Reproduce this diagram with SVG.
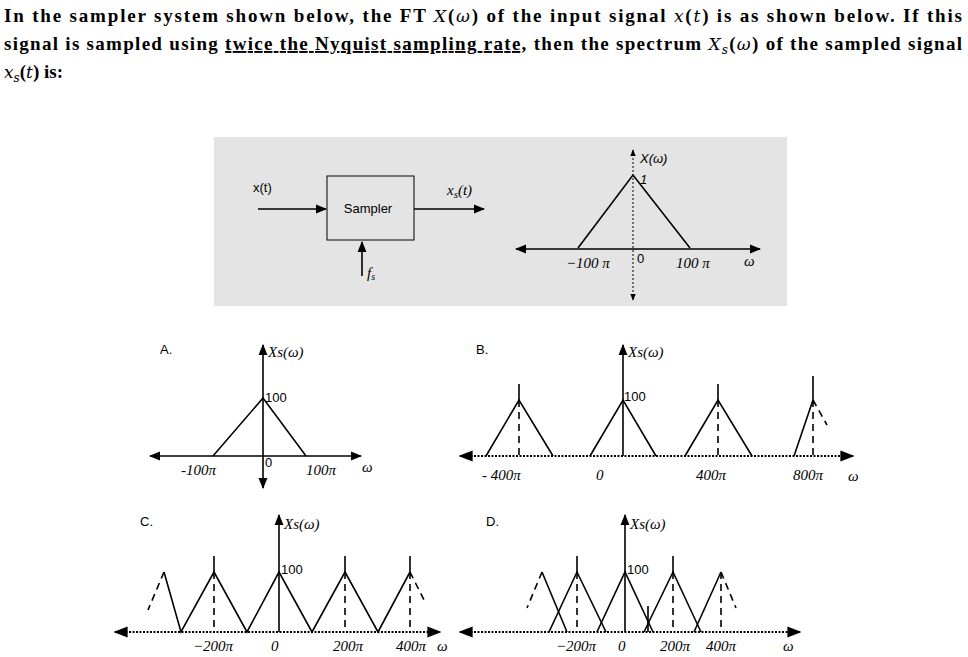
<svg xmlns="http://www.w3.org/2000/svg" width="968" height="657" viewBox="0 0 968 657">
<style>
.t{font-family:"Liberation Serif",serif;font-size:19px;font-weight:bold}
.m{font-style:italic;font-weight:normal;font-family:"DejaVu Serif",serif;font-size:17px}
.s{font-family:"Liberation Sans",sans-serif;font-size:13px}
.i{font-family:"Liberation Serif",serif;font-style:italic;font-size:15px}
.l{stroke:#000;stroke-width:1.6;fill:none}
.d{stroke:#000;stroke-width:1.6;fill:none;stroke-dasharray:7 5}
.ax{stroke:#000;stroke-width:2;fill:none;stroke-dasharray:2 1.5}
</style>
<defs>
<marker id="a" viewBox="0 0 10 10" refX="9" refY="5" markerWidth="7" markerHeight="7" orient="auto-start-reverse"><path d="M0,1L10,5L0,9z" fill="#000"/></marker>
</defs>
<rect width="968" height="657" fill="#fff"/>
<g id="title">
<text class="t" x="4" y="22" textLength="958" lengthAdjust="spacing">In the sampler system shown below, the FT <tspan class="m">X</tspan>(<tspan class="m">ω</tspan>) of the input signal <tspan class="m">x</tspan>(<tspan class="m">t</tspan>)  is as shown below. If this</text>
<text class="t" x="4" y="50" textLength="958" lengthAdjust="spacing">signal is sampled using <tspan text-decoration="underline">twice the Nyquist sampling rate</tspan>, then the spectrum <tspan class="m">X<tspan font-size="12" dy="4">s</tspan></tspan><tspan dy="-4">(</tspan><tspan class="m">ω</tspan>)  of the sampled signal</text>
<text class="t" x="4" y="78"><tspan class="m">x<tspan font-size="12" dy="4">s</tspan></tspan><tspan dy="-4">(</tspan><tspan class="m">t</tspan>) is:</text>
</g>
<rect x="214" y="137" width="573" height="169" fill="#e4e4e4"/>
<g id="sampler">
<rect x="327" y="176" width="87" height="64" fill="#e4e4e4" stroke="#000"/>
<text class="s" x="368" y="213" text-anchor="middle" font-size="14">Sampler</text>
</g>
<g id="connectors">
<line class="l" x1="258" y1="209" x2="326" y2="209" stroke-width="2.5" marker-end="url(#a)"/>
<line class="l" x1="414" y1="209" x2="484" y2="209" stroke-width="2.5" marker-end="url(#a)"/>
<line class="l" x1="362" y1="276" x2="362" y2="242" stroke-width="2.5" marker-end="url(#a)"/>
</g>
<text class="s" x="253" y="192">x(t)</text>
<text class="i" x="447" y="195">x<tspan font-size="11" dy="3">s</tspan><tspan dy="-3">(t)</tspan></text>
<text class="i" x="367" y="278">f<tspan font-size="10" dy="2">s</tspan></text>
<g id="plotX">
<line class="l" x1="516" y1="249" x2="760" y2="249" marker-start="url(#a)" marker-end="url(#a)"/>
<line stroke="#000" stroke-dasharray="2 2" x1="633" y1="300" x2="633" y2="150" marker-start="url(#a)" marker-end="url(#a)"/>
<polyline class="l" points="578,248 633,175 690,248"/>
<text class="s" x="640" y="163" font-style="italic" font-size="15">X(ω)</text>
<text class="s" x="640" y="184" font-style="italic">1</text>
<text class="i" x="566" y="268">−100 π</text>
<text class="s" x="637" y="263">0</text>
<text class="i" x="676" y="268">100 π</text>
<text class="i" x="744" y="266">ω</text>
</g>
<g id="panelA">
<text class="s" x="160" y="354">A.</text>
<line class="l" x1="263" y1="488" x2="263" y2="345" marker-start="url(#a)" marker-end="url(#a)"/>
<line class="l" x1="150" y1="456" x2="361" y2="456" stroke-width="2" marker-start="url(#a)" marker-end="url(#a)"/>
<polyline class="l" points="213,456 263,398 306,456"/>
<text class="i" x="268" y="357">Xs(ω)</text>
<text class="s" x="265" y="402" font-size="11">100</text>
<text class="i" x="181" y="475">-100π</text>
<text class="s" x="265" y="467">0</text>
<text class="i" x="306" y="475">100π</text>
<text class="i" x="362" y="472">ω</text>
</g>
<g id="panelB">
<text class="s" x="476" y="354">B.</text>
<line class="ax" x1="460" y1="456" x2="853" y2="456" marker-start="url(#a)" marker-end="url(#a)"/>
<line class="l" x1="623" y1="456" x2="623" y2="345" marker-end="url(#a)"/>
<polyline class="l" points="486,456 519,400 553,456"/>
<polyline class="l" points="590,456 623,400 656,456"/>
<polyline class="l" points="685,456 718,400 752,456"/>
<polyline class="l" points="794,456 813,400"/>
<path class="l" d="M519,384V400M718,384V400M813,376V400"/>
<path class="d" d="M519,400V456M718,400V456M813,400V456M813,400L827,425"/>
<text class="i" x="628" y="357">Xs(ω)</text>
<text class="s" x="624" y="401" font-size="11">100</text>
<text class="i" x="482" y="480">- 400π</text>
<text class="i" x="596" y="480">0</text>
<text class="i" x="696" y="480">400π</text>
<text class="i" x="793" y="480">800π</text>
<text class="i" x="848" y="481">ω</text>
</g>
<g id="panelC">
<text class="s" x="140" y="526">C.</text>
<line class="ax" x1="115" y1="632" x2="440" y2="632" marker-start="url(#a)" marker-end="url(#a)"/>
<line class="l" x1="279" y1="632" x2="279" y2="515" marker-end="url(#a)"/>
<polyline class="l" points="164,572 181,632 214,572 247,632 279,572 312,632 345,572 378,632 410,572"/>
<path class="l" d="M214,556V572M345,556V572M410,556V572"/>
<path class="d" d="M164,572L148,610M214,572V632M345,572V632M410,572V632M410,572L426,604"/>
<text class="i" x="284" y="529">Xs(ω)</text>
<text class="s" x="281" y="574" font-size="11">100</text>
<text class="i" x="193" y="651">−200π</text>
<text class="i" x="271" y="651">0</text>
<text class="i" x="333" y="651">200π</text>
<text class="i" x="396" y="651">400π</text>
<text class="i" x="437" y="651">ω</text>
</g>
<g id="panelD">
<text class="s" x="486" y="526">D.</text>
<line class="ax" x1="460" y1="632" x2="800" y2="632" marker-start="url(#a)" marker-end="url(#a)"/>
<line class="l" x1="625" y1="632" x2="625" y2="515" marker-end="url(#a)"/>
<polyline class="l" points="542,572 567,632"/>
<polyline class="l" points="549,632 577,572 606,632"/>
<polyline class="l" points="597,632 625,572 653,632"/>
<polyline class="l" points="644,632 673,572 701,632"/>
<polyline class="l" points="694,632 721,572"/>
<path class="l" d="M577,556V572M673,556V572M648,606V632"/>
<path class="d" d="M542,572L527,608M577,572V632M673,572V632M721,572V632M721,572L736,608"/>
<text class="i" x="630" y="529">Xs(ω)</text>
<text class="s" x="627" y="574" font-size="11">100</text>
<text class="i" x="556" y="651">−200π</text>
<text class="i" x="618" y="651">0</text>
<text class="i" x="660" y="651">200π</text>
<text class="i" x="706" y="651">400π</text>
<text class="i" x="783" y="651">ω</text>
</g>
</svg>
